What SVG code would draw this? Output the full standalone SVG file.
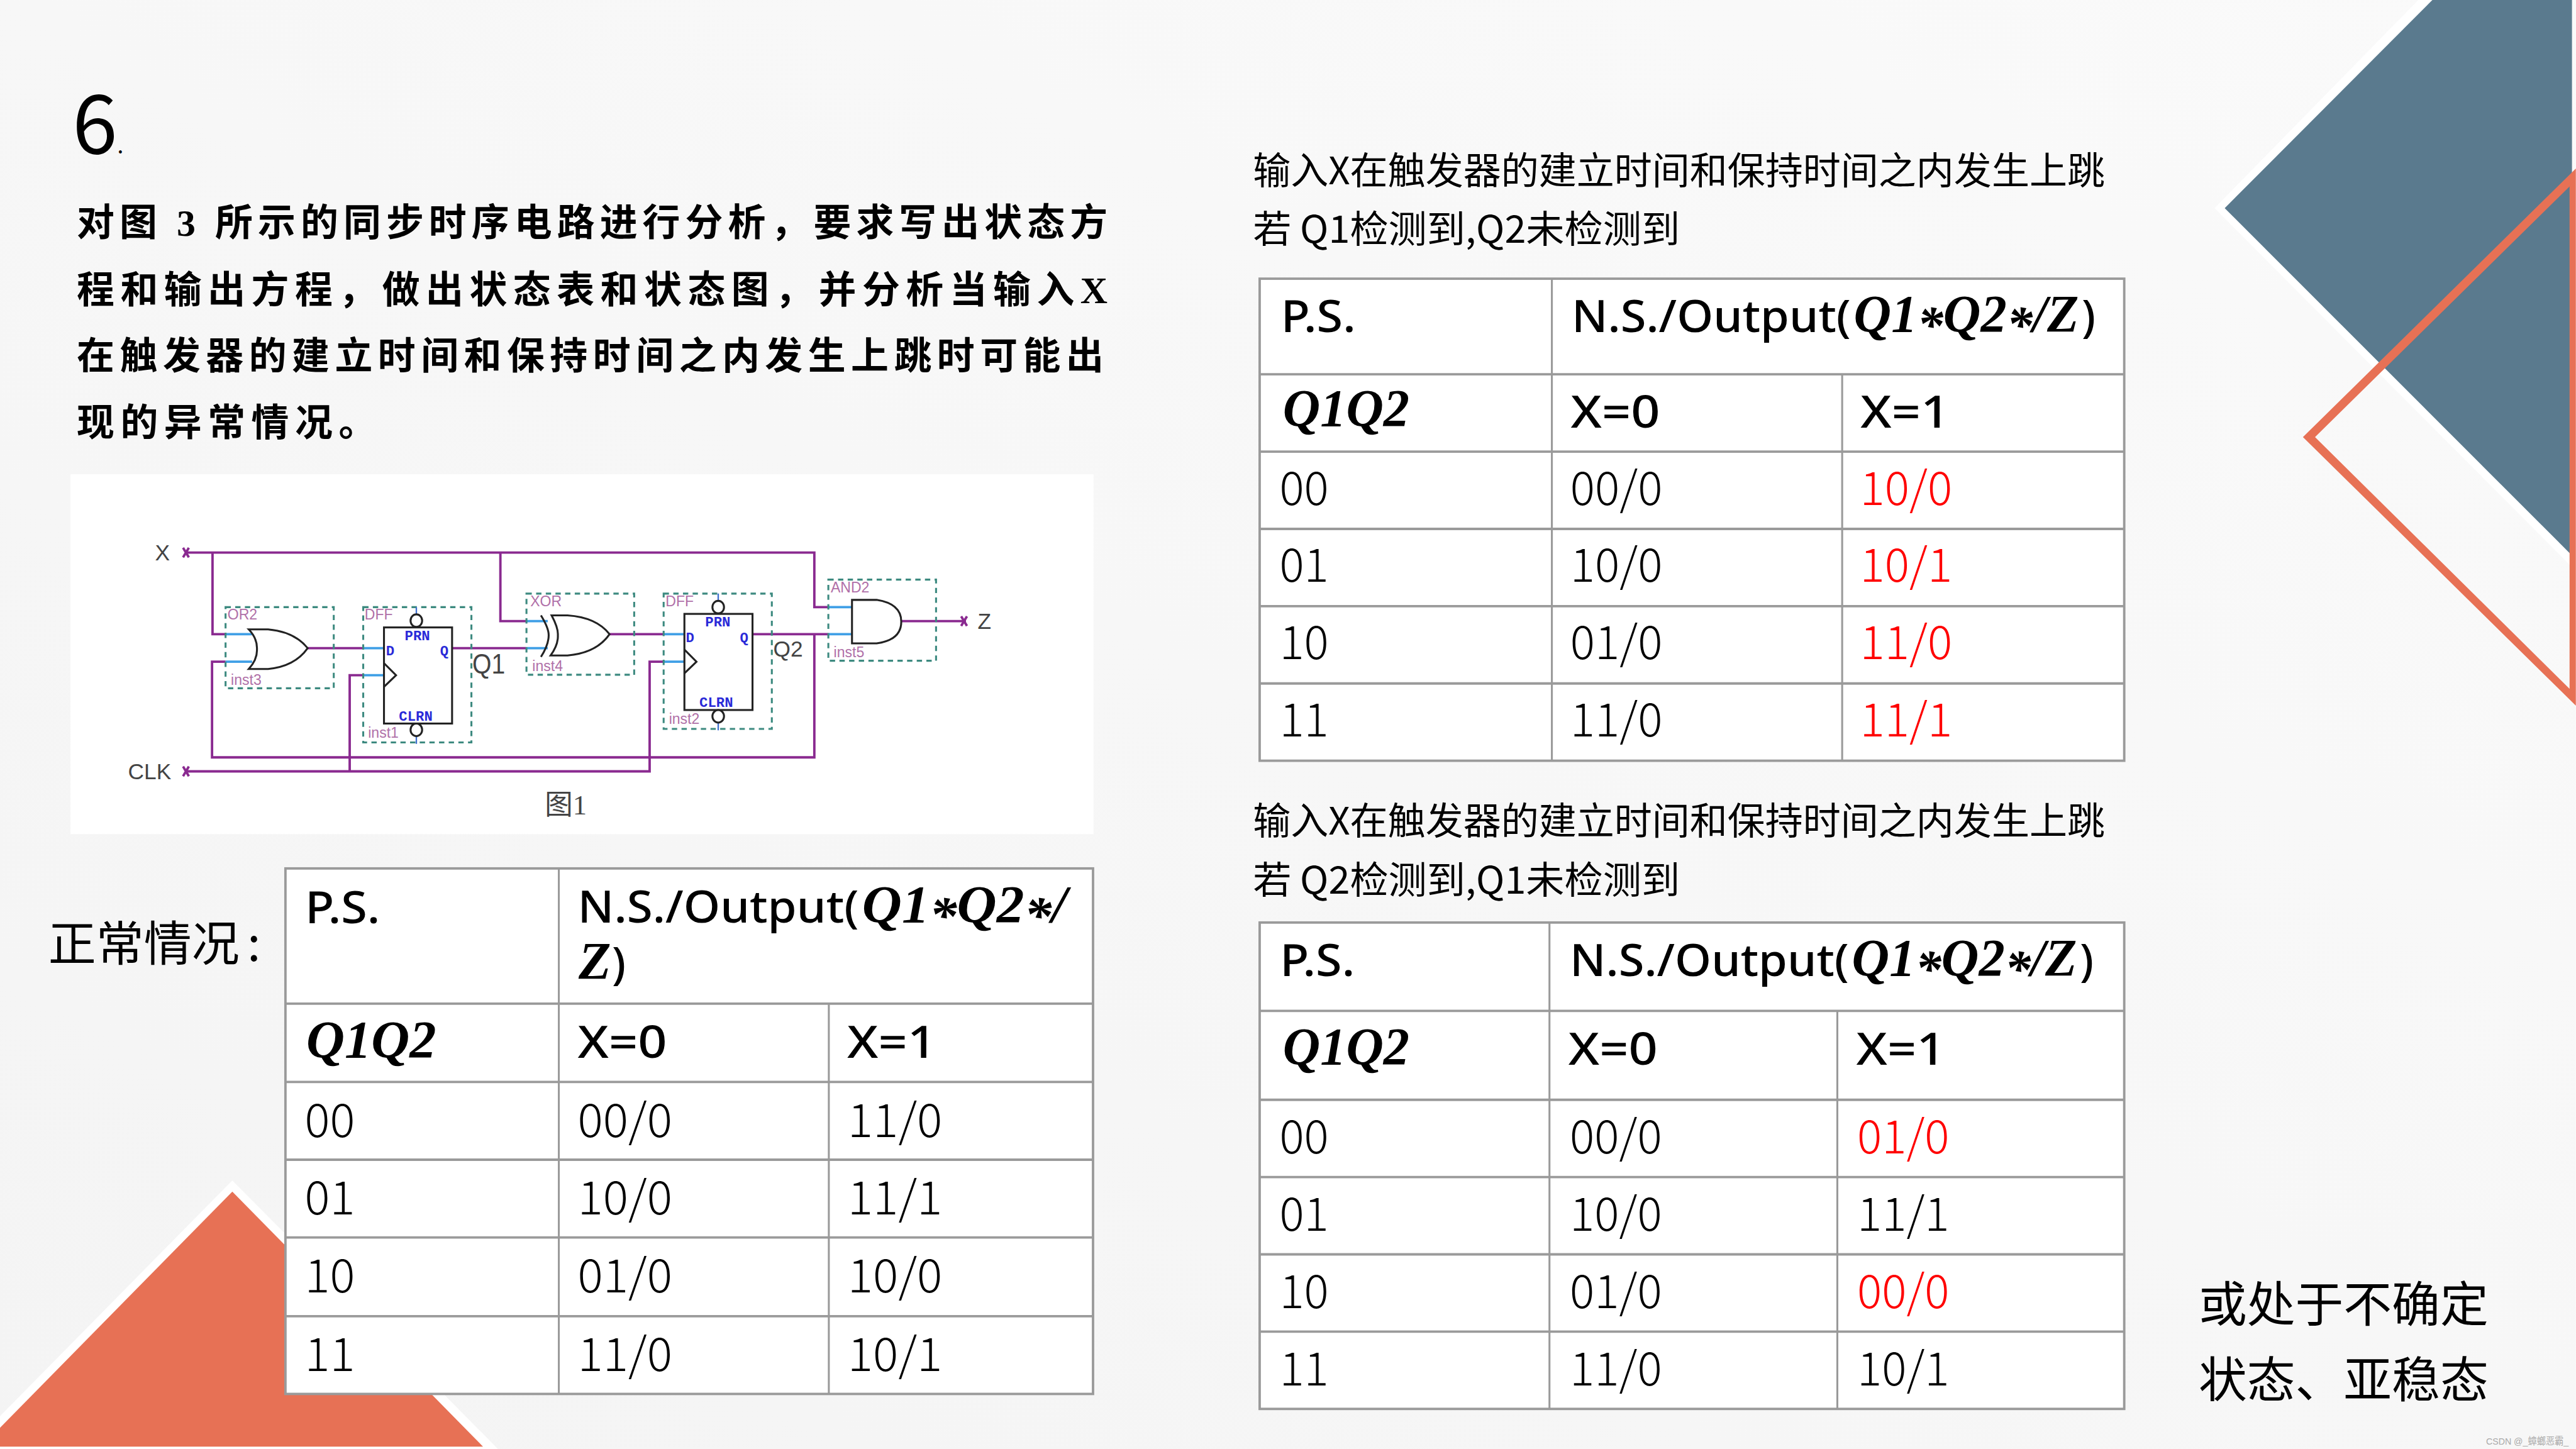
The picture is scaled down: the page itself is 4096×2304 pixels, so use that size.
<svg xmlns="http://www.w3.org/2000/svg" width="4096" height="2304" viewBox="0 0 4096 2304">
<style>
text{white-space:pre}
.cjk{font-family:"Noto Sans CJK SC","Noto Sans",sans-serif;fill:#000}
.q{font-family:"Liberation Serif","Noto Sans CJK SC",serif;font-weight:700;font-size:78px;fill:#000}
.h{font-family:"Noto Sans","Noto Sans CJK SC",sans-serif;font-weight:500;font-size:92px;fill:#000}
.d{font-family:"Noto Sans CJK SC","Noto Sans",sans-serif;font-weight:300;font-size:96px;fill:#000}
.r{fill:#ff0000}
.m{font-family:"Liberation Serif",serif;font-weight:700;font-style:italic;font-size:110px;fill:#000}
.tb{fill:#fff;stroke:#9a9a9a;stroke-width:5}
.tl{fill:none;stroke:#9a9a9a;stroke-width:5}
.tv{fill:none;stroke:#9a9a9a;stroke-width:4}
.w{fill:none;stroke:#8a2a90;stroke-width:5}
.s{fill:none;stroke:#3f9fe6;stroke-width:5}
.g{fill:#fff;stroke:#222;stroke-width:4}
.gn{fill:none;stroke:#222;stroke-width:4}
.b{fill:none;stroke:#3d8a80;stroke-width:4;stroke-dasharray:11 9}
.p{fill:none;stroke:#3f70d0;stroke-width:3}
.l{font-family:"Liberation Sans",sans-serif;font-size:30px;fill:#b070a8}
.pin{font-family:"Liberation Mono",monospace;font-weight:700;font-size:29px;fill:#2a2ad8}
.c{font-family:"Liberation Sans",sans-serif;fill:#444}
</style>
<defs>
<linearGradient id="bg" x1="0" y1="1" x2="1" y2="0"><stop offset="0" stop-color="#f4f4f4"/><stop offset="1" stop-color="#fafafa"/></linearGradient>
</defs>
<g transform="scale(0.768)">
<rect width="5333" height="3000" fill="url(#bg)"/>
<g id="deco">
<polygon points="0,2932 481,2444 1031,3000 0,3000" fill="#fff"/>
<polygon points="0,2956 481,2467 1000,2995 0,2995" fill="#e77155"/>
<polygon points="4585,431 5007,0 5325,0 5325,1174" fill="#fff"/>
<polygon points="4606,431 5036,0 5325,0 5325,1150" fill="#5a7a8e"/>
<path fill-rule="evenodd" fill="#e77155" d="M4768,905 5333,349 5333,1461ZM4793,905 5320,1426 5320,386Z"/>
</g>
<g id="title">
<text x="150" y="318" class="cjk" font-weight="400" font-size="168">6</text>
<text x="243" y="318" class="cjk" font-weight="400" font-size="46">.</text>
</g>
<g id="question">
<text x="159" y="488" class="q" textLength="2134">对图 3 所示的同步时序电路进行分析&#xFF0C;要求写出状态方</text>
<text x="159" y="627" class="q" textLength="2134">程和输出方程&#xFF0C;做出状态表和状态图&#xFF0C;并分析当输入X</text>
<text x="159" y="764" class="q" textLength="2126">在触发器的建立时间和保持时间之内发生上跳时可能出</text>
<text x="159" y="902" class="q" textLength="620">现的异常情况。</text>
</g>
<g id="circuit">
<rect x="146" y="982" width="2118" height="745" fill="#fff"/>
<g id="connectors">
<path class="w" d="M388 1144H1686V1257H1715M440 1144V1313H467M1036 1144V1286H1090M388 1597H1345V1370H1374M724 1597V1398H752M467 1370H439V1568H1686V1313M637 1342H752M936 1342H1090M1262 1313H1374M1558 1313H1715M1866 1286H2000"/>
<path class="s" d="M467 1313H522M467 1370H522M752 1342H795M752 1398H795M1090 1286H1134M1090 1342H1134M1374 1313H1417M1374 1370H1417M1715 1257H1764M1715 1313H1764"/>
<path class="w" stroke-width="3" d="M379 1134L391 1154M379 1154L391 1134M379 1587L391 1607M379 1607L391 1587M1990 1276L2002 1296M1990 1296L2002 1276"/>
</g>
<g id="port-x"><text x="321" y="1160" class="c" font-size="46">X</text></g>
<g id="port-clk"><text x="265" y="1613" class="c" font-size="46">CLK</text></g>
<g id="port-z"><text x="2024" y="1302" class="c" font-size="46">Z</text></g>
<g id="inst3">
<rect class="b" x="467" y="1257" width="224" height="168"/>
<path class="g" d="M515 1303Q533 1322 532 1344Q533 1365 515 1385L555 1385Q610 1380 637 1342Q610 1308 555 1303Z"/>
<text x="471" y="1283" class="l">OR2</text><text x="478" y="1418" class="l" font-size="34">inst3</text>
</g>
<g id="inst1">
<rect class="b" x="752" y="1257" width="224" height="280"/>
<rect class="g" x="795" y="1299" width="141" height="199"/>
<path class="gn" d="M795 1373L820 1398L795 1422"/>
<path class="p" d="M862 1257V1273M862 1524V1540"/>
<ellipse class="g" cx="862" cy="1285" rx="12" ry="13"/><ellipse class="g" cx="862" cy="1511" rx="12" ry="13"/>
<text x="838" y="1325" class="pin">PRN</text><text x="826" y="1492" class="pin">CLRN</text><text x="799" y="1357" class="pin">D</text><text x="911" y="1357" class="pin">Q</text>
<text x="755" y="1283" class="l">DFF</text><text x="762" y="1527" class="l" font-size="34">inst1</text>
</g>
<text x="978" y="1395" class="c" font-size="58" textLength="68" lengthAdjust="spacingAndGlyphs">Q1</text>
<g id="inst4">
<rect class="b" x="1090" y="1229" width="223" height="168"/>
<path class="g" d="M1142 1274Q1156 1300 1155 1315Q1156 1335 1140 1357L1175 1357Q1235 1352 1262 1313Q1235 1278 1175 1274Z"/>
<path class="gn" d="M1120 1274Q1136 1300 1136 1315Q1136 1335 1120 1360"/>
<text x="1098" y="1255" class="l">XOR</text><text x="1102" y="1389" class="l" font-size="34">inst4</text>
</g>
<g id="inst2">
<rect class="b" x="1374" y="1229" width="224" height="280"/>
<rect class="g" x="1417" y="1271" width="141" height="199"/>
<path class="gn" d="M1417 1345L1442 1370L1417 1394"/>
<path class="p" d="M1487 1229V1245M1487 1496V1512"/>
<ellipse class="g" cx="1487" cy="1257" rx="12" ry="13"/><ellipse class="g" cx="1487" cy="1483" rx="12" ry="13"/>
<text x="1460" y="1297" class="pin">PRN</text><text x="1448" y="1463" class="pin">CLRN</text><text x="1420" y="1330" class="pin">D</text><text x="1532" y="1330" class="pin">Q</text>
<text x="1378" y="1255" class="l">DFF</text><text x="1385" y="1499" class="l" font-size="34">inst2</text>
</g>
<text x="1601" y="1359" class="c" font-size="46">Q2</text>
<g id="inst5">
<rect class="b" x="1715" y="1200" width="223" height="168"/>
<path class="g" d="M1764 1242H1815Q1866 1250 1866 1287Q1866 1325 1815 1332H1764Z"/>
<text x="1720" y="1227" class="l">AND2</text><text x="1726" y="1361" class="l" font-size="34">inst5</text>
</g>
<text x="1128" y="1686" font-family="Liberation Serif,Noto Sans CJK SC,serif" font-size="58" fill="#444">图1</text>
</g>
<g id="label-normal"><text x="100" y="1990" class="cjk" font-size="99">正常情况<tspan dx="16">:</tspan></text></g>
<g id="table-normal">
<rect class="tb" x="591" y="1798" width="1672" height="1088"/>
<path class="tl" d="M591 2078H2263M591 2240H2263M591 2401H2263M591 2562H2263M591 2725H2263"/>
<path class="tv" d="M1157 1798V2886M1716 2078V2886"/>
<text x="632" y="1912" class="h" textLength="155" lengthAdjust="spacingAndGlyphs">P.S.</text>
<text x="1196" y="1910" class="h" textLength="582" lengthAdjust="spacingAndGlyphs">N.S./Output(</text>
<text x="1785" y="1910" class="m" textLength="424" lengthAdjust="spacingAndGlyphs">Q1<tspan dy="22">*</tspan><tspan dy="-22">Q2</tspan><tspan dy="22">*</tspan><tspan dy="-22">/</tspan></text>
<text x="1198" y="2027" class="m">Z</text><text x="1267" y="2027" class="h">)</text>
<text x="634" y="2190" class="m">Q1Q2</text>
<text x="1196" y="2190" class="h" textLength="185" lengthAdjust="spacingAndGlyphs">X=0</text>
<text x="1754" y="2190" class="h" textLength="185" lengthAdjust="spacingAndGlyphs">X=1</text>
<text x="631" y="2354" class="d" textLength="104" lengthAdjust="spacingAndGlyphs">00</text><text x="1196" y="2354" class="d" textLength="196" lengthAdjust="spacingAndGlyphs">00/0</text><text x="1755" y="2354" class="d" textLength="196" lengthAdjust="spacingAndGlyphs">11/0</text>
<text x="631" y="2514" class="d" textLength="104" lengthAdjust="spacingAndGlyphs">01</text><text x="1196" y="2514" class="d" textLength="196" lengthAdjust="spacingAndGlyphs">10/0</text><text x="1755" y="2514" class="d" textLength="196" lengthAdjust="spacingAndGlyphs">11/1</text>
<text x="631" y="2676" class="d" textLength="104" lengthAdjust="spacingAndGlyphs">10</text><text x="1196" y="2676" class="d" textLength="196" lengthAdjust="spacingAndGlyphs">01/0</text><text x="1755" y="2676" class="d" textLength="196" lengthAdjust="spacingAndGlyphs">10/0</text>
<text x="631" y="2838" class="d" textLength="104" lengthAdjust="spacingAndGlyphs">11</text><text x="1196" y="2838" class="d" textLength="196" lengthAdjust="spacingAndGlyphs">11/0</text><text x="1755" y="2838" class="d" textLength="196" lengthAdjust="spacingAndGlyphs">10/1</text>
</g>
<g id="caption-1">
<text x="2594" y="381" class="cjk" font-size="78" textLength="1764" lengthAdjust="spacingAndGlyphs">输入X在触发器的建立时间和保持时间之内发生上跳</text>
<text x="2594" y="503" class="cjk" font-size="78" textLength="884" lengthAdjust="spacingAndGlyphs">若 Q1检测到,Q2未检测到</text>
</g>
<g id="table-q1">
<rect class="tb" x="2608" y="577" width="1790" height="998"/>
<path class="tl" d="M2608 775H4398M2608 935H4398M2608 1095H4398M2608 1255H4398M2608 1415H4398"/>
<path class="tv" d="M3213 577V1575M3814 775V1575"/>
<text x="2652" y="688" class="h" textLength="155" lengthAdjust="spacingAndGlyphs">P.S.</text>
<text x="3254" y="688" class="h" textLength="578" lengthAdjust="spacingAndGlyphs">N.S./Output(</text>
<text x="3838" y="688" class="m" textLength="466" lengthAdjust="spacingAndGlyphs">Q1<tspan dy="22">*</tspan><tspan dy="-22">Q2</tspan><tspan dy="22">*</tspan><tspan dy="-22">/Z</tspan></text><text x="4310" y="688" class="h">)</text>
<text x="2656" y="883" class="m" textLength="262" lengthAdjust="spacingAndGlyphs">Q1Q2</text>
<text x="3252" y="885" class="h" textLength="185" lengthAdjust="spacingAndGlyphs">X=0</text>
<text x="3852" y="885" class="h" textLength="185" lengthAdjust="spacingAndGlyphs">X=1</text>
<text x="2649" y="1045" class="d" textLength="102" lengthAdjust="spacingAndGlyphs">00</text><text x="3251" y="1045" class="d" textLength="191" lengthAdjust="spacingAndGlyphs">00/0</text><text x="3851" y="1045" class="d r" textLength="191" lengthAdjust="spacingAndGlyphs">10/0</text>
<text x="2649" y="1205" class="d" textLength="102" lengthAdjust="spacingAndGlyphs">01</text><text x="3251" y="1205" class="d" textLength="191" lengthAdjust="spacingAndGlyphs">10/0</text><text x="3851" y="1205" class="d r" textLength="191" lengthAdjust="spacingAndGlyphs">10/1</text>
<text x="2649" y="1365" class="d" textLength="102" lengthAdjust="spacingAndGlyphs">10</text><text x="3251" y="1365" class="d" textLength="191" lengthAdjust="spacingAndGlyphs">01/0</text><text x="3851" y="1365" class="d r" textLength="191" lengthAdjust="spacingAndGlyphs">11/0</text>
<text x="2649" y="1525" class="d" textLength="102" lengthAdjust="spacingAndGlyphs">11</text><text x="3251" y="1525" class="d" textLength="191" lengthAdjust="spacingAndGlyphs">11/0</text><text x="3851" y="1525" class="d r" textLength="191" lengthAdjust="spacingAndGlyphs">11/1</text>
</g>
<g id="caption-2">
<text x="2594" y="1728" class="cjk" font-size="78" textLength="1764" lengthAdjust="spacingAndGlyphs">输入X在触发器的建立时间和保持时间之内发生上跳</text>
<text x="2594" y="1850" class="cjk" font-size="78" textLength="884" lengthAdjust="spacingAndGlyphs">若 Q2检测到,Q1未检测到</text>
</g>
<g id="table-q2">
<rect class="tb" x="2608" y="1910" width="1790" height="1007"/>
<path class="tl" d="M2608 2093H4398M2608 2277H4398M2608 2437H4398M2608 2597H4398M2608 2757H4398"/>
<path class="tv" d="M3208 1910V2917M3804 2093V2917"/>
<text x="2650" y="2021" class="h" textLength="155" lengthAdjust="spacingAndGlyphs">P.S.</text>
<text x="3250" y="2021" class="h" textLength="578" lengthAdjust="spacingAndGlyphs">N.S./Output(</text>
<text x="3834" y="2021" class="m" textLength="466" lengthAdjust="spacingAndGlyphs">Q1<tspan dy="22">*</tspan><tspan dy="-22">Q2</tspan><tspan dy="22">*</tspan><tspan dy="-22">/Z</tspan></text><text x="4306" y="2021" class="h">)</text>
<text x="2656" y="2204" class="m" textLength="262" lengthAdjust="spacingAndGlyphs">Q1Q2</text>
<text x="3247" y="2204" class="h" textLength="185" lengthAdjust="spacingAndGlyphs">X=0</text>
<text x="3843" y="2204" class="h" textLength="185" lengthAdjust="spacingAndGlyphs">X=1</text>
<text x="2649" y="2388" class="d" textLength="102" lengthAdjust="spacingAndGlyphs">00</text><text x="3250" y="2388" class="d" textLength="191" lengthAdjust="spacingAndGlyphs">00/0</text><text x="3845" y="2388" class="d r" textLength="191" lengthAdjust="spacingAndGlyphs">01/0</text>
<text x="2649" y="2548" class="d" textLength="102" lengthAdjust="spacingAndGlyphs">01</text><text x="3250" y="2548" class="d" textLength="191" lengthAdjust="spacingAndGlyphs">10/0</text><text x="3845" y="2548" class="d" textLength="191" lengthAdjust="spacingAndGlyphs">11/1</text>
<text x="2649" y="2708" class="d" textLength="102" lengthAdjust="spacingAndGlyphs">10</text><text x="3250" y="2708" class="d" textLength="191" lengthAdjust="spacingAndGlyphs">01/0</text><text x="3845" y="2708" class="d r" textLength="191" lengthAdjust="spacingAndGlyphs">00/0</text>
<text x="2649" y="2868" class="d" textLength="102" lengthAdjust="spacingAndGlyphs">11</text><text x="3250" y="2868" class="d" textLength="191" lengthAdjust="spacingAndGlyphs">11/0</text><text x="3845" y="2868" class="d" textLength="191" lengthAdjust="spacingAndGlyphs">10/1</text>
</g>
<g id="note">
<text x="4552" y="2737" class="cjk" font-size="100">或处于不确定</text>
<text x="4552" y="2893" class="cjk" font-size="100">状态、亚稳态</text>
</g>
<text x="5147" y="2991" font-family="Liberation Sans,Noto Sans CJK SC,sans-serif" font-size="20" fill="#aaa" textLength="171" lengthAdjust="spacingAndGlyphs">CSDN @_蟑螂恶霸_</text>
</g>
</svg>
